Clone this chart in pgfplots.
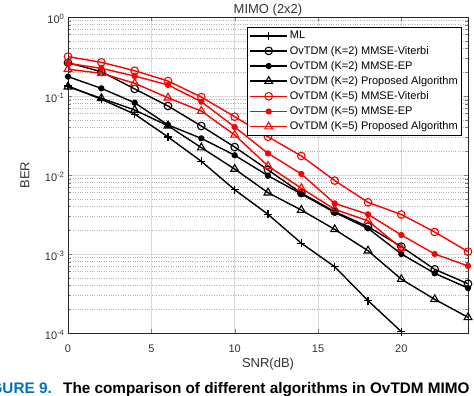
\documentclass[border=0pt]{standalone}
\usepackage{fontspec}
\setmainfont{Liberation Sans}
\usepackage{pgfplots}
\pgfplotsset{compat=1.18}
\definecolor{capblue}{RGB}{0,114,188}
\begin{document}
\begin{tikzpicture}[x=1bp,y=1bp]
\useasboundingbox (0,0) rectangle (474,395);
\clip (0,0) rectangle (474,395);
\begin{axis}[
  at={(68bp,62bp)}, anchor=south west,
  width=400bp, height=316bp, scale only axis,
  xmin=0, xmax=24, ymode=log, ymin=1e-4, ymax=1,
  xtick={0,5,10,15,20},
  ytick={1e-4,1e-3,1e-2,1e-1,1},
  yticklabels={10\textsuperscript{-4},10\textsuperscript{-3},10\textsuperscript{-2},10\textsuperscript{-1},10\textsuperscript{0}},
  grid=both,
  major grid style={black!15, line width=0.6bp},
  minor grid style={black!30, dotted, line width=0.5bp},
  tick align=inside,
  axis line style={black!85, line width=0.6bp},
  /pgf/number format/assume math mode=true,
  tick label style={font=\fontsize{11bp}{13bp}\selectfont, text=black!80},
  xticklabel style={anchor=base, yshift=-19bp},
  yticklabel style={yshift=-2bp},
  xlabel={SNR(dB)},
  xlabel style={at={(axis description cs:0.5,-0.1076)}, anchor=base, font=\fontsize{13bp}{15bp}\selectfont, text=black!80},
  ylabel={BER},
  ylabel style={at={(axis description cs:-0.1075,0.5)}, anchor=center, font=\fontsize{13bp}{15bp}\selectfont, text=black!80},
  legend style={at={(axis description cs:0.985,0.968)}, anchor=north east,
    font=\fontsize{11bp}{13bp}\selectfont, draw=black, line width=0.6bp,
    row sep=1.7bp, inner xsep=2bp, inner ysep=2bp, cells={anchor=west}},
  legend image code/.code={\draw[mark repeat=2,mark phase=2] plot coordinates {(0bp,0bp)(18.5bp,0bp)(37bp,0bp)};},
  every axis plot/.append style={line width=1.4bp},
]
\addplot[black, mark=+, mark size=4bp, mark options={line width=1.1bp}] coordinates {(0,0.134)(2,0.091)(4,0.059)(6,0.0303)(8,0.0149)(10,0.0065)(12,0.00318)(14,0.00137)(16,0.00069)(18,0.000257)(20,0.000104)};
\addlegendentry{ML}
\addplot[black, mark=o, mark size=3.8bp, mark options={line width=1.1bp}] coordinates {(0,0.264)(2,0.203)(4,0.123)(6,0.0747)(8,0.0417)(10,0.0226)(12,0.0116)(14,0.0059)(16,0.00344)(18,0.00222)(20,0.00124)(22,0.00064)(24,0.00042)};
\addlegendentry{OvTDM (K=2) MMSE-Viterbi}
\addplot[black, mark=*, mark size=2.4bp] coordinates {(0,0.176)(2,0.125)(4,0.0822)(6,0.043)(8,0.0291)(10,0.0178)(12,0.0098)(14,0.00575)(16,0.00336)(18,0.00211)(20,0.001)(22,0.00057)(24,0.00037)};
\addlegendentry{OvTDM (K=2) MMSE-EP}
\addplot[black, mark=triangle, mark size=4.5bp, mark options={line width=1.1bp}] coordinates {(0,0.131)(2,0.0936)(4,0.0665)(6,0.042)(8,0.0222)(10,0.0119)(12,0.00597)(14,0.0036)(16,0.00205)(18,0.0011)(20,0.00048)(22,0.000267)(24,0.000158)};
\addlegendentry{OvTDM (K=2) Proposed Algorithm}
\addplot[red, mark=o, mark size=3.8bp, mark options={line width=1.1bp}] coordinates {(0,0.315)(2,0.267)(4,0.209)(6,0.155)(8,0.097)(10,0.0547)(12,0.0305)(14,0.0174)(16,0.0085)(18,0.00451)(20,0.00316)(22,0.0019)(24,0.00107)};
\addlegendentry{OvTDM (K=5) MMSE-Viterbi}
\addplot[red, mark=*, mark size=2.4bp] coordinates {(0,0.259)(2,0.224)(4,0.179)(6,0.138)(8,0.0847)(10,0.0405)(12,0.0188)(14,0.0103)(16,0.00437)(18,0.00318)(20,0.00174)(22,0.001)(24,0.000706)};
\addlegendentry{OvTDM (K=5) MMSE-EP}
\addplot[red, mark=triangle, mark size=4.5bp, mark options={line width=1.1bp}] coordinates {(0,0.218)(2,0.194)(4,0.145)(6,0.095)(8,0.0645)(10,0.0322)(12,0.013)(14,0.0068)(16,0.00368)(18,0.00263)(20,0.00118)};
\addlegendentry{OvTDM (K=5) Proposed Algorithm}
\end{axis}
\node[anchor=base, inner sep=0, text=black!80, font=\fontsize{13bp}{15bp}\selectfont] at (268,382) {MIMO (2x2)};
\node[anchor=base east, inner sep=0, text=capblue, font=\bfseries\fontsize{15.3bp}{17bp}\selectfont] at (52,1.5) {FIGURE 9.};
\node[anchor=base west, inner sep=0, font=\bfseries\fontsize{15.3bp}{17bp}\selectfont] at (63,1.5) {The comparison of different algorithms in OvTDM MIMO systems.};
\end{tikzpicture}
\end{document}
